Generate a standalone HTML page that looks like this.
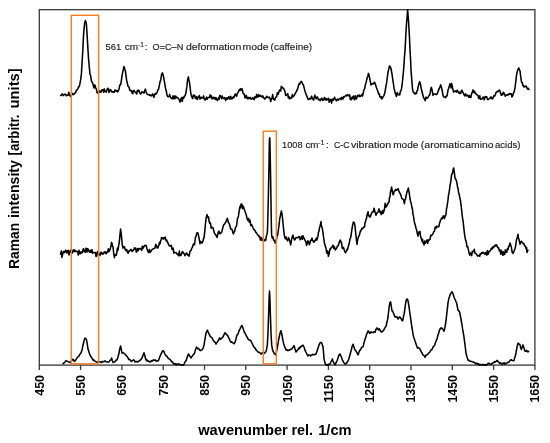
<!DOCTYPE html>
<html><head><meta charset="utf-8"><title>Raman spectra</title>
<style>
html,body{margin:0;padding:0;background:#fff;}
body{width:550px;height:443px;overflow:hidden;font-family:"Liberation Sans",sans-serif;}
svg{display:block;}
.ax text{font-family:"Liberation Sans",sans-serif;font-weight:bold;font-size:12.3px;fill:#000;}
.ttl text{font-family:"Liberation Sans",sans-serif;font-weight:bold;font-size:15px;fill:#000;}
.ann{font-family:"Liberation Sans",sans-serif;font-size:9.5px;fill:#1c1c1c;stroke:#1c1c1c;stroke-width:0.15px;}
.sup{font-size:7.2px;}
</style></head>
<body>
<svg width="550" height="443" viewBox="0 0 550 443">
<rect x="0" y="0" width="550" height="443" fill="#fff"/>
<rect x="39.3" y="9.7" width="495.60" height="355.40" fill="none" stroke="#383838" stroke-width="1.3"/>
<g stroke="#383838" stroke-width="1.3"><line x1="39.30" y1="365.1" x2="39.30" y2="369.9"/><line x1="80.60" y1="365.1" x2="80.60" y2="369.9"/><line x1="121.90" y1="365.1" x2="121.90" y2="369.9"/><line x1="163.20" y1="365.1" x2="163.20" y2="369.9"/><line x1="204.50" y1="365.1" x2="204.50" y2="369.9"/><line x1="245.80" y1="365.1" x2="245.80" y2="369.9"/><line x1="287.10" y1="365.1" x2="287.10" y2="369.9"/><line x1="328.40" y1="365.1" x2="328.40" y2="369.9"/><line x1="369.70" y1="365.1" x2="369.70" y2="369.9"/><line x1="411.00" y1="365.1" x2="411.00" y2="369.9"/><line x1="452.30" y1="365.1" x2="452.30" y2="369.9"/><line x1="493.60" y1="365.1" x2="493.60" y2="369.9"/><line x1="534.90" y1="365.1" x2="534.90" y2="369.9"/></g>
<g fill="none" stroke="#000" stroke-width="1.55" stroke-linejoin="round" stroke-linecap="round">
<polyline points="60.6,95.5 61.3,95.4 62.0,93.9 62.7,94.6 63.4,95.6 64.2,94.6 65.0,94.0 65.7,94.6 66.3,95.8 67.0,95.1 67.6,95.4 68.2,95.0 68.8,92.3 69.4,94.7 70.2,96.0 71.0,96.6 71.7,93.8 72.3,93.3 73.0,94.7 73.7,93.8 74.3,94.0 75.0,93.0 75.7,92.6 76.3,90.3 77.0,90.1 77.8,88.9 78.6,86.8 79.3,86.7 80.0,83.1 80.7,79.4 81.4,73.9 82.0,63.7 82.6,54.0 83.1,44.0 83.6,34.1 84.1,28.6 84.6,22.9 85.4,20.6 85.9,22.0 86.4,24.2 86.9,31.7 87.4,40.0 88.0,50.2 88.6,59.8 89.3,67.0 90.0,74.3 90.7,75.9 91.4,80.9 92.2,82.4 93.0,83.8 93.5,86.4 94.0,88.0 94.5,85.1 95.0,85.3 95.7,87.7 96.4,89.3 97.0,92.3 97.6,93.1 98.3,92.1 99.0,90.5 99.7,92.2 100.3,91.2 101.0,92.2 101.7,90.1 102.3,89.7 103.0,89.8 103.7,92.2 104.3,88.9 105.0,91.4 105.7,91.5 106.3,92.1 107.0,89.8 107.7,88.3 108.3,88.6 109.0,92.5 109.7,90.7 110.3,89.5 111.0,90.4 111.7,92.0 112.3,91.5 113.0,92.1 113.7,91.7 114.3,92.3 115.0,89.9 115.7,90.7 116.3,91.2 117.0,90.4 117.7,91.9 118.3,90.8 119.0,89.2 119.8,85.0 120.6,84.8 121.3,81.1 122.0,75.6 122.7,72.4 123.4,69.3 123.9,66.6 124.4,67.6 124.9,69.5 125.4,71.0 126.0,75.7 126.6,80.1 127.3,83.1 128.0,86.3 128.7,86.6 129.3,88.2 130.0,90.4 130.7,90.8 131.3,90.6 132.0,92.8 132.7,93.8 133.3,90.9 134.0,90.4 134.7,91.5 135.3,92.2 136.0,92.9 136.7,94.0 137.3,90.4 138.0,91.5 138.7,90.1 139.3,91.4 140.0,93.3 140.7,94.0 141.3,93.2 142.0,91.7 142.7,92.2 143.3,92.7 144.0,93.2 144.7,90.8 145.4,89.1 146.0,91.5 146.6,93.0 147.3,94.3 147.9,94.4 148.6,94.8 149.3,95.1 149.9,94.8 150.6,95.8 151.3,95.3 151.9,95.8 152.6,93.9 153.3,95.0 153.9,97.4 154.6,94.6 155.3,93.4 155.9,94.2 156.6,93.1 157.3,91.9 157.9,89.9 158.6,89.2 159.3,85.7 160.0,81.9 160.8,79.9 161.6,74.1 162.4,72.8 162.9,74.4 163.4,75.9 163.9,79.0 164.4,81.4 164.9,84.6 165.5,88.2 166.2,90.5 167.0,95.0 167.7,96.6 168.3,96.8 169.0,96.6 169.7,94.6 170.3,96.9 171.0,97.9 171.7,98.5 172.3,98.8 173.0,95.9 173.7,98.8 174.3,96.1 175.0,98.7 175.7,96.0 176.3,97.7 177.0,97.5 177.7,97.5 178.3,98.6 179.0,99.3 179.5,100.6 180.0,102.0 180.5,101.3 181.0,98.4 181.7,97.5 182.3,101.5 183.0,97.2 183.7,98.2 184.3,96.2 185.0,96.0 185.7,93.6 186.4,90.0 187.0,85.4 187.6,79.7 188.4,76.9 188.9,80.2 189.4,81.8 190.0,86.4 190.6,91.7 191.3,95.7 192.0,97.3 192.7,98.6 193.3,95.1 194.0,96.0 194.7,95.3 195.3,98.3 196.0,98.6 196.7,96.5 197.3,99.4 198.0,97.4 198.7,97.3 199.3,95.6 200.0,99.2 200.6,98.2 201.2,97.2 201.8,98.2 202.4,97.9 203.0,97.6 203.6,95.9 204.2,99.0 204.8,99.8 205.4,100.0 206.0,98.3 206.6,97.1 207.2,99.2 207.8,97.7 208.4,97.4 209.0,97.6 209.6,97.0 210.2,94.7 210.8,97.5 211.4,95.9 212.0,98.9 212.6,98.8 213.2,97.3 213.8,97.9 214.4,98.7 215.0,97.4 215.6,99.4 216.2,97.9 216.8,99.6 217.4,100.5 218.0,99.5 218.6,97.6 219.2,99.2 219.8,95.3 220.4,96.0 221.0,96.2 221.6,98.7 222.2,96.0 222.8,97.9 223.4,98.0 224.0,98.6 224.6,97.6 225.2,98.5 225.8,100.4 226.4,97.9 227.0,97.8 227.6,99.2 228.2,97.8 228.8,96.7 229.4,97.8 230.0,99.2 230.6,96.3 231.2,97.3 231.8,99.0 232.4,98.4 233.0,97.0 233.6,97.9 234.2,96.8 234.8,94.8 235.4,94.1 236.0,95.8 236.7,96.1 237.3,93.4 238.0,92.7 238.7,91.2 239.3,89.5 240.0,90.4 240.7,88.6 241.4,90.1 242.2,88.9 243.0,93.1 243.7,93.9 244.3,94.0 245.0,97.9 245.7,97.6 246.3,95.4 247.0,98.2 247.6,98.7 248.2,97.4 248.8,98.7 249.4,98.3 250.0,97.3 250.6,97.7 251.2,99.3 251.8,98.7 252.4,98.7 253.0,97.5 253.6,99.3 254.2,99.6 254.8,97.2 255.4,96.7 256.0,97.8 256.7,94.4 257.3,96.9 258.0,96.9 258.7,94.5 259.3,96.2 260.0,95.8 260.7,95.4 261.3,96.8 262.0,96.9 262.7,95.9 263.3,97.4 264.0,98.1 264.7,99.2 265.3,98.0 266.0,97.9 266.7,96.3 267.3,96.9 268.0,97.4 268.7,97.7 269.3,97.0 270.0,98.3 270.7,101.6 271.3,99.3 272.0,97.7 272.7,94.6 273.3,99.1 274.0,99.0 274.7,100.3 275.3,98.1 276.0,97.0 276.7,96.6 277.3,92.8 278.0,94.3 278.7,92.9 279.3,90.3 280.0,90.0 280.7,91.0 281.3,86.4 282.0,87.1 282.7,88.1 283.4,88.1 284.2,89.6 285.0,91.7 285.7,95.4 286.3,95.2 287.0,94.6 287.7,93.6 288.3,97.9 289.0,96.4 289.7,98.9 290.3,98.3 291.0,97.6 291.7,98.0 292.3,94.5 293.0,96.7 293.7,95.9 294.3,95.6 295.0,93.8 295.7,92.5 296.3,91.8 297.0,90.1 297.7,88.6 298.3,86.2 299.0,83.9 299.7,84.1 300.4,82.4 301.2,81.4 302.0,82.4 302.7,83.8 303.4,85.0 304.2,88.1 305.0,91.0 305.7,93.2 306.3,94.9 307.0,96.6 307.7,98.2 308.3,99.6 309.0,99.2 309.7,98.4 310.3,98.9 311.0,97.6 311.7,96.1 312.3,99.0 313.0,99.0 313.6,100.1 314.2,97.4 314.8,95.1 315.4,96.9 316.0,98.7 316.6,97.8 317.2,96.8 317.8,97.8 318.4,99.8 319.0,99.6 319.6,99.4 320.2,100.8 320.8,99.5 321.4,98.3 322.0,98.2 322.6,100.4 323.2,99.7 323.8,100.0 324.4,97.4 325.0,98.9 325.6,99.9 326.2,98.4 326.8,100.1 327.4,99.3 328.0,98.8 328.6,98.4 329.2,102.3 329.8,101.0 330.4,99.4 331.0,100.0 331.6,103.1 332.2,99.0 332.8,100.3 333.4,100.2 334.0,98.6 334.6,97.2 335.2,99.2 335.8,99.6 336.4,100.8 337.0,99.7 337.6,99.2 338.2,100.1 338.8,99.5 339.4,98.9 340.0,98.4 340.6,98.2 341.2,99.6 341.8,97.3 342.4,98.0 343.0,99.0 343.7,96.6 344.3,97.1 345.0,96.3 345.8,95.3 346.6,96.0 347.4,94.6 348.2,95.1 349.0,95.9 349.7,94.9 350.3,99.6 351.0,98.2 351.6,99.6 352.2,97.0 352.8,98.1 353.4,96.0 354.0,98.9 354.6,99.8 355.2,95.8 355.8,98.2 356.4,99.0 357.0,97.3 357.6,95.3 358.2,96.0 358.8,96.3 359.4,95.0 360.0,96.6 360.7,96.0 361.3,95.6 362.0,94.3 362.5,96.1 363.0,94.4 363.8,90.2 364.6,88.9 365.3,85.1 366.0,82.7 366.7,79.9 367.4,77.0 367.9,76.0 368.4,73.4 369.0,74.8 369.6,78.0 370.3,81.3 371.0,84.9 371.8,84.4 372.6,83.7 373.5,83.8 374.4,82.1 375.0,83.4 375.6,84.8 376.3,87.3 377.0,89.2 377.8,91.0 378.6,94.0 379.3,93.9 380.0,97.1 380.7,97.8 381.3,96.7 382.0,98.9 382.8,97.2 383.6,96.1 384.3,94.6 385.0,92.0 385.8,86.9 386.6,83.0 387.3,77.5 388.0,72.2 388.5,70.3 389.0,67.8 389.5,65.9 390.0,66.9 390.5,67.2 391.0,68.7 391.5,71.4 392.0,73.9 392.5,77.6 393.0,81.1 393.5,84.2 394.0,88.5 394.6,90.2 395.2,93.3 395.8,94.6 396.4,96.4 397.2,92.5 398.0,94.7 398.5,94.8 399.0,94.2 399.7,95.0 400.4,91.1 401.0,90.8 401.6,88.2 402.1,84.6 402.6,80.1 403.1,74.9 403.6,70.1 404.4,57.9 405.0,50.1 405.8,35.9 406.6,22.0 407.1,17.1 407.6,9.9 408.1,16.0 408.6,22.2 409.4,36.0 410.0,49.9 410.6,60.0 411.0,70.1 411.8,80.1 412.4,87.8 413.0,91.6 413.6,92.5 414.3,93.0 415.0,94.1 415.7,93.0 416.4,93.5 417.0,90.8 417.6,90.2 418.1,87.1 418.6,84.8 419.1,83.6 419.6,81.6 420.1,83.0 420.6,84.8 421.1,88.1 421.6,90.0 422.3,92.8 423.0,95.4 423.7,98.1 424.4,98.8 425.2,100.7 426.0,97.0 426.8,98.5 427.6,97.7 428.3,96.9 429.0,95.5 429.7,95.1 430.4,91.4 430.9,88.3 431.4,87.4 432.2,90.6 433.0,95.4 433.7,94.1 434.3,94.3 435.0,93.9 435.8,94.3 436.6,94.6 437.3,93.5 438.0,91.6 438.7,89.9 439.4,88.1 440.0,87.0 440.6,84.9 441.2,86.2 441.8,89.0 442.4,91.6 443.0,95.4 443.7,96.9 444.4,97.0 445.0,96.9 445.6,97.7 446.3,95.9 447.0,95.9 447.5,93.2 448.0,90.1 448.7,88.2 449.4,86.1 450.0,83.9 450.6,84.0 451.1,87.9 451.6,83.4 452.1,85.5 452.6,88.0 453.1,90.1 453.6,92.1 454.3,91.2 455.0,91.1 455.7,91.1 456.3,92.1 457.0,90.3 457.8,91.0 458.6,93.0 459.3,92.2 460.0,93.6 460.7,93.3 461.3,90.6 462.0,90.3 462.7,92.3 463.4,93.1 464.2,95.1 465.0,96.0 465.7,93.9 466.3,95.6 467.0,95.6 467.6,95.0 468.2,95.9 468.8,97.3 469.4,95.5 470.0,97.3 470.8,97.5 471.6,93.8 472.3,92.1 473.0,89.9 473.8,92.5 474.6,91.1 475.3,93.5 476.0,93.8 476.7,94.6 477.3,95.3 478.0,95.4 478.6,98.4 479.2,98.3 479.8,95.7 480.4,99.3 481.0,98.9 481.7,99.1 482.3,98.5 483.0,97.0 483.6,97.4 484.2,99.8 484.8,97.1 485.4,96.5 486.0,97.5 486.7,96.7 487.3,99.1 488.0,99.7 488.7,99.1 489.3,98.4 490.0,98.5 490.6,97.1 491.2,97.0 491.8,98.8 492.4,99.0 493.0,98.0 493.8,95.9 494.6,96.1 495.3,94.8 496.0,92.5 496.7,92.2 497.3,91.3 498.0,91.6 498.7,90.6 499.4,90.0 500.0,91.1 500.6,93.4 501.3,95.3 502.0,93.8 502.7,94.8 503.3,92.3 504.0,93.0 504.7,94.6 505.3,96.2 506.0,94.9 506.7,94.9 507.3,95.3 508.0,94.4 508.7,94.7 509.3,93.5 510.0,94.1 510.7,93.7 511.3,93.7 512.0,97.0 512.8,95.3 513.6,92.8 514.3,91.3 515.0,87.9 515.5,83.6 516.0,80.1 516.5,75.4 517.0,72.8 517.5,71.0 518.0,69.3 518.8,67.9 519.4,69.8 520.0,70.8 520.8,77.1 521.6,82.5 522.3,82.8 523.0,85.8 523.5,85.3 524.0,87.0 524.7,86.7 525.4,86.4 526.2,86.1 527.0,88.2 527.5,89.2 528.0,88.3 528.5,89.0 529.0,89.4"/>
<polyline points="60.6,254.2 61.4,250.9 61.9,257.4 62.4,255.3 62.9,253.6 63.4,251.8 63.9,251.5 64.4,252.6 65.0,252.2 65.5,250.3 66.0,250.4 66.5,251.7 67.0,253.1 67.5,250.7 68.0,250.6 68.5,250.5 69.0,255.0 69.5,253.1 70.0,252.4 70.5,250.1 71.0,250.9 71.7,252.7 72.4,253.0 73.2,250.0 74.0,251.4 74.5,249.7 75.0,251.6 75.7,251.0 76.3,251.2 77.0,251.7 77.7,251.6 78.3,255.1 79.0,250.3 79.7,253.6 80.3,253.7 81.0,251.8 81.7,253.0 82.3,252.6 83.0,249.4 83.7,248.8 84.3,251.8 85.0,250.2 85.5,252.2 86.0,248.2 86.5,248.5 87.0,252.0 87.7,248.8 88.4,249.4 89.2,251.8 90.0,252.4 90.7,250.3 91.3,252.3 92.0,249.8 92.7,253.3 93.4,252.5 94.2,252.5 95.0,252.7 95.5,252.5 96.0,256.4 96.7,256.0 97.4,251.7 98.2,254.3 99.0,253.0 99.7,255.5 100.3,254.7 101.0,252.2 101.7,252.4 102.3,253.9 103.0,254.2 103.7,253.1 104.3,251.9 105.0,252.9 105.7,251.9 106.3,253.7 107.0,252.0 107.7,252.3 108.3,248.8 109.0,251.4 109.5,250.2 110.0,249.8 110.5,247.9 111.0,245.9 111.5,242.4 112.0,243.5 112.5,246.2 113.0,246.8 113.7,253.1 114.4,257.6 115.0,254.7 115.6,254.9 116.3,255.2 117.0,251.0 117.5,248.0 118.0,250.1 118.5,246.4 119.0,243.8 119.5,239.9 120.0,234.5 120.6,229.1 121.4,235.6 122.2,244.3 123.0,248.1 123.7,246.5 124.4,246.7 125.2,249.5 126.0,250.6 126.7,249.5 127.3,251.8 128.0,253.2 128.5,252.6 129.0,250.9 129.7,251.0 130.3,249.9 131.0,249.4 131.7,250.9 132.4,251.4 133.2,250.2 134.0,249.2 134.5,247.9 135.0,249.1 135.7,248.1 136.3,252.2 137.0,251.4 137.7,248.5 138.3,250.6 139.0,248.5 139.7,248.8 140.3,248.5 141.0,249.2 141.7,250.5 142.3,246.3 143.0,248.5 143.8,246.7 144.6,245.5 145.3,245.5 146.0,245.3 146.5,247.0 147.0,249.1 147.5,250.1 148.0,251.8 148.7,252.6 149.4,249.5 150.2,252.3 151.0,251.2 151.7,250.0 152.3,249.4 153.0,248.9 153.7,248.7 154.3,248.3 155.0,248.0 155.7,244.3 156.4,245.5 157.2,247.9 158.0,247.7 158.5,245.8 159.0,245.0 159.5,242.4 160.0,243.7 160.5,241.6 161.0,239.9 161.5,237.5 162.0,238.4 162.5,238.8 163.0,237.8 163.7,239.1 164.4,237.6 165.2,237.1 166.0,240.7 166.7,240.0 167.3,241.9 168.0,243.0 168.7,244.9 169.3,245.9 170.0,245.6 170.7,246.1 171.3,245.4 172.0,249.3 172.6,249.6 173.2,248.1 173.8,253.1 174.4,252.3 175.0,252.5 175.7,252.7 176.3,252.8 177.0,254.1 177.6,254.8 178.2,253.8 178.8,255.8 179.4,251.0 180.0,255.5 180.7,255.5 181.3,254.7 182.0,252.4 182.7,251.5 183.4,253.2 184.2,253.7 185.0,255.6 185.7,254.8 186.3,253.0 187.0,253.2 187.7,255.0 188.3,254.7 189.0,256.3 189.5,254.3 190.0,251.1 190.5,250.9 191.0,250.4 191.7,248.2 192.4,247.5 193.2,244.4 194.0,243.5 194.5,244.8 195.0,240.5 195.5,237.3 196.0,236.6 196.8,233.0 197.6,232.7 198.1,233.6 198.6,235.9 199.4,240.3 200.0,243.8 200.6,241.4 201.3,241.9 202.0,243.1 202.5,241.7 203.0,241.2 203.5,238.4 204.0,238.1 204.8,231.1 205.4,224.3 206.2,217.7 207.0,214.6 207.5,216.6 208.0,217.7 208.5,216.9 209.0,220.8 209.7,223.4 210.4,222.9 211.2,228.2 212.0,227.3 212.8,227.5 213.6,230.0 214.3,232.7 215.0,234.2 215.7,234.4 216.3,236.1 217.0,237.5 217.5,235.8 218.0,233.1 218.5,231.8 219.0,231.1 219.5,233.3 220.0,233.8 220.5,233.5 221.0,232.8 221.7,232.1 222.4,229.5 223.2,226.1 224.0,224.4 224.7,224.0 225.4,222.6 226.0,221.7 226.6,220.3 227.3,218.3 228.0,220.8 228.5,222.9 229.0,223.2 229.5,224.5 230.0,226.2 230.5,228.7 231.0,229.1 231.7,229.0 232.4,230.4 232.9,232.8 233.4,233.9 234.0,232.3 234.6,231.5 235.3,228.2 236.0,226.9 236.5,225.8 237.0,222.7 237.5,218.1 238.0,217.8 238.5,215.9 239.0,211.8 239.5,209.3 240.0,206.3 240.5,207.8 241.0,204.2 241.5,203.9 242.0,204.9 242.5,208.6 243.0,206.1 243.5,206.6 244.0,208.4 244.7,210.6 245.4,212.5 246.2,214.7 247.0,218.0 247.8,220.5 248.6,218.5 249.3,222.1 250.0,220.2 250.8,225.7 251.6,224.7 252.3,226.0 253.0,227.8 253.8,229.4 254.6,230.0 255.3,231.1 256.0,232.7 256.8,233.2 257.6,235.0 258.3,235.2 259.0,236.7 259.7,236.5 260.4,240.0 261.0,239.8 261.6,237.5 262.3,240.5 263.0,240.0 263.5,240.7 264.0,240.2 264.5,240.9 265.0,239.6 265.8,240.3 266.4,235.8 267.0,234.5 267.5,230.1 267.9,215.1 268.4,194.9 269.0,165.0 269.4,140.1 269.7,137.7 269.9,140.0 270.4,165.1 270.9,194.9 271.3,222.0 271.6,234.9 272.4,238.3 273.0,236.9 273.6,240.2 274.4,240.2 275.2,243.1 276.0,240.1 276.5,239.3 277.0,236.1 277.7,234.8 278.4,229.8 279.3,222.8 279.8,218.0 280.3,216.2 280.9,213.2 281.4,210.9 282.3,215.9 283.0,223.0 283.7,229.8 284.3,235.4 285.2,238.6 286.0,236.8 286.5,239.3 287.0,239.7 287.7,240.9 288.4,237.6 289.2,239.2 290.0,241.9 290.7,244.9 291.4,240.7 292.2,236.8 293.0,235.1 293.5,238.1 294.0,238.3 294.5,239.9 295.0,239.6 295.7,238.0 296.4,237.6 297.2,237.8 298.0,237.7 298.7,236.6 299.4,236.7 300.2,239.7 301.0,238.2 301.7,236.2 302.3,239.3 303.0,235.7 303.7,237.7 304.4,239.2 305.2,240.6 306.0,242.0 306.5,245.4 307.0,244.2 307.8,240.9 308.6,241.7 309.3,244.7 310.0,243.0 310.5,240.3 311.0,240.4 311.5,239.8 312.0,238.1 312.5,240.3 313.0,240.9 313.5,241.9 314.0,242.3 314.8,240.3 315.6,240.6 316.3,238.0 317.0,239.9 317.5,237.7 318.0,236.2 318.5,232.2 319.0,231.3 319.5,227.6 320.0,226.2 320.5,224.1 321.0,221.6 321.5,226.6 322.0,227.1 322.5,229.5 323.0,232.9 323.5,236.9 324.0,240.0 324.5,243.5 325.0,244.8 325.5,246.9 326.0,247.9 326.6,252.7 327.1,253.3 327.6,250.7 328.4,256.3 329.2,253.2 330.0,248.8 330.7,248.9 331.4,247.3 332.2,246.9 333.0,245.1 333.7,248.4 334.4,246.6 335.2,249.9 336.0,249.0 336.7,248.0 337.4,245.9 338.2,245.8 339.0,243.2 339.7,241.0 340.4,240.1 341.0,242.3 341.6,243.0 342.3,248.4 343.0,247.3 343.7,248.1 344.4,250.5 345.0,252.0 345.6,252.8 346.3,251.2 347.0,249.4 347.5,249.6 348.0,247.6 348.7,245.0 349.4,242.7 349.9,239.0 350.4,238.6 351.0,236.0 351.5,232.0 352.0,229.0 352.7,224.7 353.4,222.0 353.9,222.3 354.4,223.1 355.0,226.1 355.5,231.2 356.0,235.8 356.5,240.3 357.0,244.5 357.6,239.9 358.4,237.0 359.2,235.7 360.0,232.5 360.5,230.8 361.0,230.8 361.7,228.4 362.4,228.9 363.2,227.8 364.0,226.7 364.5,227.0 365.0,222.9 365.5,221.9 366.0,219.4 366.5,218.5 367.0,215.1 367.6,213.1 368.1,211.8 368.6,216.0 369.3,215.6 370.0,217.2 370.7,215.6 371.4,213.8 372.2,212.0 373.0,211.6 373.5,211.6 374.0,208.2 374.5,210.0 375.0,212.3 375.5,213.1 376.0,215.2 376.7,213.2 377.4,212.7 378.2,211.6 379.0,208.9 379.7,212.2 380.4,211.3 381.2,214.6 382.0,212.8 382.5,210.6 383.0,213.4 383.7,211.7 384.4,209.3 385.2,203.2 386.0,207.1 386.7,206.2 387.4,204.7 388.2,202.9 389.0,202.1 389.5,197.6 390.0,196.4 390.5,191.7 391.0,190.0 391.6,187.0 392.4,191.9 393.0,194.6 393.5,194.7 394.0,191.4 394.5,191.1 395.0,190.8 395.7,189.4 396.4,190.3 397.2,189.8 398.0,188.6 398.7,190.5 399.4,192.5 400.2,193.4 401.0,195.6 401.8,198.4 402.6,199.0 403.5,199.7 404.4,203.7 404.9,199.9 405.4,199.5 406.0,196.0 406.6,193.7 407.1,191.5 407.6,190.6 408.4,188.1 409.2,193.0 410.0,198.5 410.5,201.0 411.0,202.9 411.5,205.1 412.0,207.8 412.5,209.4 413.0,214.4 413.5,216.0 414.0,220.2 414.5,222.7 415.0,224.1 415.5,226.2 416.0,228.2 416.5,229.6 417.0,232.0 417.5,234.4 418.0,236.1 418.5,234.1 419.0,231.9 419.5,232.5 420.0,231.5 420.5,235.9 421.0,237.5 421.5,239.3 422.0,241.1 422.5,239.2 423.0,242.9 423.5,242.4 424.0,244.9 424.7,241.1 425.4,243.1 426.2,241.3 427.0,240.0 427.7,243.4 428.4,239.9 429.2,240.1 430.0,239.5 430.7,235.3 431.4,235.8 432.2,234.7 433.0,233.6 433.7,231.8 434.4,231.3 435.2,227.0 436.0,228.3 436.7,226.1 437.4,226.9 438.2,226.7 439.0,226.4 439.5,223.2 440.0,222.2 440.5,220.1 441.0,219.3 441.7,217.9 442.4,218.7 443.2,215.9 444.0,216.5 444.5,218.5 445.0,215.7 445.5,216.0 446.0,214.3 446.5,208.9 447.0,206.9 447.5,203.1 448.0,200.0 448.5,195.1 449.0,193.1 449.5,189.7 450.0,185.7 450.5,183.1 451.0,180.1 451.5,175.2 452.0,174.0 452.5,173.1 453.0,170.3 453.6,168.0 454.4,172.8 455.0,178.0 455.8,179.2 456.6,181.3 457.1,184.1 457.6,187.3 458.1,188.8 458.6,192.6 459.1,194.3 459.6,196.7 460.1,198.9 460.6,201.5 461.1,205.3 461.6,209.9 462.1,214.5 462.6,218.3 463.1,221.2 463.6,225.8 464.1,230.7 464.6,234.3 465.1,237.8 465.6,240.1 466.3,242.2 467.0,246.8 467.7,246.6 468.3,249.4 469.0,252.5 469.7,255.1 470.3,252.9 471.0,254.3 471.7,255.6 472.3,251.3 473.0,251.7 473.7,251.5 474.3,249.3 475.0,253.3 475.7,253.5 476.3,253.9 477.0,255.0 477.7,256.1 478.3,255.6 479.0,255.4 479.7,256.3 480.3,253.8 481.0,254.1 481.7,252.5 482.3,253.3 483.0,252.2 483.7,253.5 484.3,253.1 485.0,254.5 485.6,252.6 486.2,252.5 486.8,255.1 487.4,250.6 488.0,254.3 488.7,252.8 489.3,251.3 490.0,251.0 490.7,249.8 491.3,248.2 492.0,249.3 492.7,246.9 493.3,247.8 494.0,246.9 494.6,245.4 495.2,245.1 495.8,246.2 496.4,244.8 497.0,245.6 497.8,247.7 498.6,247.8 499.3,250.8 500.0,249.9 500.7,254.2 501.3,250.3 502.0,252.4 502.7,255.3 503.3,251.7 504.0,254.6 504.7,254.4 505.3,249.9 506.0,251.9 506.7,252.3 507.3,248.9 508.0,249.6 508.5,246.3 509.0,246.5 509.5,245.0 510.0,243.0 510.7,245.1 511.4,247.6 512.2,252.2 513.0,253.4 513.7,251.9 514.4,250.3 515.0,248.5 515.6,246.2 516.1,242.3 516.6,239.5 517.3,237.4 518.0,234.3 518.5,238.3 519.0,239.3 519.5,241.9 520.0,244.2 520.7,242.2 521.4,241.2 522.2,242.4 523.0,243.4 523.7,243.5 524.4,245.6 525.2,246.0 526.0,248.6 526.5,247.4 527.0,252.5 527.5,250.1 528.0,250.5"/>
<polyline points="63.0,363.8 63.7,363.1 64.3,362.8 65.0,361.9 65.7,361.1 66.3,360.6 67.0,361.1 67.7,361.4 68.4,361.9 69.2,362.0 70.0,362.6 70.7,362.0 71.4,360.9 72.2,359.9 73.0,359.2 73.5,359.8 74.0,361.0 74.5,361.4 75.0,361.0 75.7,360.0 76.4,358.9 77.2,357.6 78.0,356.8 78.7,356.3 79.4,355.1 80.2,353.8 81.0,353.0 81.5,351.4 82.0,350.2 82.5,347.7 83.0,345.0 83.5,343.2 84.0,341.1 84.5,339.2 85.0,338.1 85.8,338.5 86.6,340.0 87.4,345.0 88.0,349.1 88.5,350.5 89.0,352.0 89.5,353.8 90.0,355.0 90.7,356.2 91.4,357.2 92.2,358.6 93.0,360.0 93.7,359.8 94.3,360.8 95.0,361.1 95.7,361.6 96.3,361.9 97.0,362.1 97.7,362.0 98.3,361.8 99.0,361.7 99.7,361.7 100.3,361.9 101.0,362.5 101.7,362.5 102.3,361.4 103.0,361.9 103.7,361.6 104.3,361.5 105.0,360.9 105.7,361.4 106.3,361.7 107.0,361.9 107.7,362.1 108.3,361.9 109.0,361.9 109.7,360.9 110.4,359.9 111.0,359.7 111.6,358.0 112.4,361.0 113.0,362.4 113.7,362.3 114.3,362.1 115.0,361.6 115.7,360.5 116.3,360.1 117.0,359.9 117.5,358.6 118.0,356.9 118.5,355.0 119.0,353.1 119.5,350.1 120.0,348.0 120.6,346.0 121.4,349.9 122.0,353.1 122.7,352.7 123.4,352.7 124.2,353.6 125.0,354.2 125.7,354.8 126.4,355.9 127.2,356.5 128.0,357.9 128.7,359.4 129.3,359.2 130.0,359.8 130.7,360.7 131.3,361.5 132.0,360.9 132.8,360.5 133.6,359.8 134.3,360.3 135.0,362.0 135.7,361.4 136.3,361.4 137.0,362.0 137.7,361.9 138.3,361.3 139.0,361.2 139.8,360.2 140.6,360.0 141.3,359.1 142.0,357.8 142.5,356.9 143.0,355.1 143.5,354.1 144.0,352.8 144.5,354.9 145.0,356.0 145.5,358.6 146.0,360.0 146.7,359.5 147.3,361.2 148.0,361.0 148.7,361.1 149.3,361.8 150.0,362.0 150.7,361.8 151.3,360.6 152.0,361.0 152.7,360.9 153.3,359.8 154.0,360.2 154.7,360.3 155.3,359.8 156.0,361.2 156.7,360.8 157.3,361.0 158.0,361.0 158.7,360.1 159.4,358.0 160.2,355.8 161.0,353.9 161.5,353.2 162.0,352.1 162.5,351.1 163.0,350.7 163.6,351.1 164.2,352.0 164.8,353.7 165.4,355.0 166.0,355.6 166.6,356.0 167.3,356.8 168.0,358.0 168.7,358.7 169.4,358.9 170.2,359.5 171.0,361.0 171.7,361.5 172.4,362.0 173.2,363.3 174.0,364.1 174.6,363.8 175.2,364.3 175.8,363.7 176.4,364.9 177.0,364.2 177.6,364.1 178.2,363.9 178.8,364.5 179.4,364.3 180.0,364.3 180.6,364.8 181.2,364.7 181.8,365.2 182.4,364.8 183.0,365.3 183.8,364.7 184.6,362.8 185.3,361.3 186.0,360.9 186.6,359.4 187.2,357.1 187.8,355.6 188.4,354.0 189.0,354.6 189.6,356.0 190.3,356.6 191.0,358.0 191.7,356.9 192.4,355.9 193.2,354.8 194.0,354.1 194.7,352.6 195.4,349.9 196.0,348.7 196.6,347.0 197.2,348.4 197.8,348.7 198.4,348.4 199.0,349.0 199.8,350.3 200.6,350.6 201.3,349.9 202.0,349.9 202.5,349.1 203.0,348.1 203.5,346.8 204.0,345.0 204.5,342.1 205.0,339.0 205.5,336.0 206.0,332.9 206.7,331.7 207.4,330.1 208.0,331.8 208.6,333.0 209.3,334.4 210.0,336.1 210.7,336.9 211.4,337.2 212.2,338.1 213.0,340.0 213.8,340.9 214.6,342.2 215.3,342.2 216.0,344.1 216.7,342.7 217.4,341.9 218.2,340.8 219.0,339.1 219.7,337.9 220.4,339.4 221.2,338.8 222.0,337.9 222.7,337.4 223.4,335.9 224.2,334.4 225.0,332.7 225.7,333.7 226.4,334.0 227.2,335.3 228.0,335.9 228.7,338.1 229.4,338.9 230.2,341.1 231.0,342.2 231.7,341.9 232.4,342.6 233.2,343.0 234.0,343.7 234.5,343.2 235.0,342.0 235.5,340.9 236.0,339.1 236.5,336.6 237.0,335.0 237.5,334.7 238.0,334.1 238.5,332.5 239.0,330.9 239.5,329.9 240.0,329.1 240.5,327.6 241.0,326.9 241.5,325.8 242.0,325.5 242.5,327.2 243.0,328.0 243.5,329.7 244.0,331.1 244.5,332.4 245.0,333.0 245.7,334.5 246.4,336.0 247.2,337.4 248.0,338.9 248.7,339.7 249.4,340.1 250.2,340.2 251.0,340.9 251.7,342.5 252.4,344.0 253.2,345.8 254.0,347.0 254.7,348.0 255.3,348.4 256.0,349.9 256.7,350.5 257.3,351.1 258.0,352.1 258.7,352.3 259.3,352.3 260.0,353.1 260.7,353.5 261.3,354.2 262.0,353.0 262.8,352.6 263.6,352.7 264.5,353.3 265.4,352.3 265.9,351.4 266.5,350.0 267.3,345.0 267.9,335.0 268.6,315.0 269.1,298.0 269.5,291.0 269.9,298.0 270.4,315.0 271.1,335.0 271.7,345.1 272.6,350.1 273.2,351.3 273.8,352.9 274.4,353.8 275.0,354.1 275.6,354.9 276.4,352.0 276.9,349.7 277.4,347.0 277.9,344.3 278.4,341.0 278.9,338.5 279.4,336.0 279.9,333.9 280.4,331.9 281.0,330.7 281.5,333.0 282.0,335.0 282.5,338.0 283.0,340.9 283.7,343.7 284.4,346.0 285.2,347.9 286.0,350.0 286.7,349.5 287.3,350.1 288.0,350.8 288.7,350.0 289.3,349.8 290.0,350.0 290.7,349.2 291.3,348.9 292.0,348.9 292.7,347.6 293.3,347.0 294.0,345.6 294.5,347.1 295.0,348.9 295.5,350.5 296.0,351.9 296.8,351.1 297.6,349.9 298.3,349.4 299.0,347.8 299.7,348.4 300.3,346.7 301.0,346.9 301.7,345.9 302.3,345.5 303.0,345.2 303.5,346.2 304.0,346.9 304.5,348.6 305.0,350.2 305.7,351.7 306.4,353.0 307.2,354.6 308.0,356.0 308.7,354.9 309.3,355.1 310.0,355.0 310.7,355.9 311.3,355.3 312.0,355.0 312.7,354.2 313.3,354.8 314.0,354.8 314.7,354.7 315.3,354.1 316.0,354.1 316.7,352.0 317.4,350.0 318.2,347.6 319.0,345.1 319.5,343.9 320.0,342.9 320.5,342.5 321.0,342.4 321.5,342.8 322.0,343.9 322.5,345.6 323.0,346.9 323.6,353.0 324.0,358.9 324.5,360.9 325.0,363.0 325.5,363.7 326.0,365.1 326.7,364.8 327.3,365.2 328.0,364.7 328.7,364.2 329.3,364.5 330.0,364.1 330.7,362.5 331.4,361.0 331.9,360.4 332.4,358.9 332.9,360.8 333.4,362.0 333.9,363.2 334.4,364.1 335.2,364.6 336.0,362.9 336.5,361.5 337.0,361.1 337.5,359.4 338.0,358.0 338.5,356.1 339.0,355.1 339.5,354.6 340.0,353.8 340.5,355.3 341.0,356.0 341.5,357.3 342.0,358.8 342.5,360.6 343.0,360.9 343.5,362.2 344.0,362.9 344.5,363.1 345.0,364.1 345.8,363.8 346.6,363.1 347.3,361.8 348.0,361.0 348.7,359.2 349.4,357.1 350.2,354.0 351.0,351.0 351.5,349.2 352.0,346.8 352.5,345.6 353.0,344.2 353.5,345.7 354.0,347.0 354.5,348.7 355.0,350.1 355.7,350.4 356.4,351.9 357.2,353.2 358.0,354.8 358.5,353.8 359.0,351.9 359.5,351.0 360.0,350.1 360.7,349.4 361.4,347.8 362.2,346.9 363.0,346.8 363.5,345.1 364.0,342.9 364.5,341.1 365.0,339.1 365.7,337.5 366.4,334.9 367.2,333.0 368.0,331.0 368.7,331.2 369.4,333.1 370.2,333.1 371.0,331.8 371.7,332.5 372.3,332.5 373.0,332.6 373.7,331.9 374.3,331.7 375.0,332.3 375.5,330.8 376.0,329.0 376.5,329.0 377.0,327.9 377.7,329.2 378.4,329.9 379.2,328.7 380.0,329.9 380.7,331.3 381.4,332.1 382.2,331.8 383.0,331.0 383.7,330.1 384.4,328.8 385.2,327.4 386.0,326.3 386.5,324.0 387.0,322.0 387.5,320.0 388.0,317.0 388.8,310.0 389.4,305.0 390.0,302.6 390.6,301.9 391.4,307.0 392.0,311.0 392.7,311.3 393.4,313.0 394.2,315.0 395.0,316.9 395.7,316.7 396.4,317.1 397.2,316.9 398.0,319.1 398.5,318.3 399.0,317.6 399.5,317.1 400.0,317.0 400.7,318.3 401.4,318.9 402.0,320.6 402.6,320.9 403.1,318.6 403.6,316.0 404.1,313.9 404.6,311.0 405.4,304.9 406.0,301.0 406.5,299.7 407.0,299.0 407.6,299.4 408.4,302.9 409.0,306.9 409.5,310.5 410.0,314.0 410.5,317.4 411.0,320.9 411.5,324.6 412.0,328.0 412.5,330.6 413.0,333.9 413.5,336.5 414.0,338.0 414.5,339.2 415.0,340.9 415.7,342.9 416.4,345.0 416.9,346.4 417.4,348.1 418.0,347.5 418.6,347.7 419.3,348.3 420.0,349.0 420.7,350.7 421.4,352.1 422.2,353.2 423.0,355.1 423.7,355.3 424.4,355.8 424.9,357.2 425.4,356.8 426.0,355.1 426.6,355.0 427.3,354.6 428.0,354.0 428.7,353.0 429.4,352.6 430.2,351.4 431.0,350.0 431.7,349.8 432.4,348.8 433.2,346.6 434.0,346.1 434.7,345.0 435.4,342.8 436.2,340.7 437.0,339.2 437.5,337.0 438.0,335.1 438.5,333.8 439.0,332.0 439.5,330.2 440.0,329.2 440.5,328.6 441.0,327.8 441.7,328.0 442.4,329.0 443.2,329.4 444.0,331.3 444.5,329.2 445.0,327.1 445.5,323.9 446.0,321.0 446.5,316.1 447.0,312.0 447.5,307.6 448.0,302.9 448.5,300.3 449.0,297.9 449.5,296.7 450.0,295.1 450.5,293.9 451.0,293.1 451.5,292.4 452.0,291.8 452.5,292.7 453.0,293.9 453.5,295.6 454.0,297.0 454.7,298.8 455.4,299.9 456.0,301.7 456.6,303.0 457.4,307.1 458.0,310.0 458.5,310.8 459.0,310.8 459.6,312.0 460.2,315.0 460.8,318.0 461.4,321.5 462.0,324.9 462.5,328.4 463.0,331.1 463.5,334.1 464.0,337.1 464.5,341.0 465.0,345.1 465.5,348.8 466.0,353.1 466.5,355.1 467.0,356.9 467.5,358.4 468.0,360.1 468.7,360.1 469.4,360.9 470.2,361.2 471.0,361.3 471.7,361.6 472.3,361.8 473.0,362.0 473.7,362.1 474.3,362.7 475.0,362.8 475.6,363.8 476.2,363.2 476.8,363.7 477.4,363.6 478.0,364.1 478.6,363.8 479.2,365.1 479.8,364.6 480.4,364.6 481.0,364.8 481.6,365.2 482.2,364.8 482.8,364.3 483.4,365.0 484.0,365.1 484.6,364.6 485.2,365.1 485.8,364.6 486.4,365.1 487.0,364.6 487.6,364.0 488.2,363.4 488.8,363.8 489.4,363.3 490.0,364.3 490.6,364.4 491.2,364.3 491.8,363.6 492.4,363.6 493.0,362.8 493.7,362.6 494.3,361.7 495.0,362.1 495.7,361.5 496.4,361.2 496.9,360.4 497.4,360.7 498.0,361.7 498.6,361.9 499.3,362.8 500.0,363.6 500.7,362.9 501.3,363.8 502.0,364.0 502.6,363.9 503.2,362.9 503.8,363.8 504.4,362.9 505.0,364.2 505.7,363.5 506.3,363.3 507.0,362.9 507.7,362.7 508.3,362.0 509.0,362.0 509.5,361.5 510.0,360.4 510.5,360.0 511.0,359.5 511.7,360.3 512.4,360.6 513.2,360.7 514.0,360.6 514.5,358.3 515.0,356.9 515.5,355.3 516.0,353.0 516.5,350.0 517.0,346.9 517.5,344.9 518.0,343.1 518.5,344.3 519.0,344.1 519.5,344.0 520.0,344.8 520.8,348.0 521.4,349.6 522.2,347.1 523.0,344.9 523.5,346.5 524.0,348.0 524.5,349.9 525.0,351.2 525.8,351.3 526.6,350.3 527.3,351.4 527.9,351.9 528.6,351.3"/>
</g>
<g fill="none" stroke="#FF7D1E" stroke-width="1.4">
<rect x="71.3" y="15.3" width="27.3" height="348.5"/>
<rect x="263.3" y="131.2" width="13.0" height="232.6"/>
</g>
<g class="ax"><text transform="translate(43.70,395.8) rotate(-90)" textLength="20.8" lengthAdjust="spacingAndGlyphs">450</text><text transform="translate(85.00,395.8) rotate(-90)" textLength="20.8" lengthAdjust="spacingAndGlyphs">550</text><text transform="translate(126.30,395.8) rotate(-90)" textLength="20.8" lengthAdjust="spacingAndGlyphs">650</text><text transform="translate(167.60,395.8) rotate(-90)" textLength="20.8" lengthAdjust="spacingAndGlyphs">750</text><text transform="translate(208.90,395.8) rotate(-90)" textLength="20.8" lengthAdjust="spacingAndGlyphs">850</text><text transform="translate(250.20,395.8) rotate(-90)" textLength="20.8" lengthAdjust="spacingAndGlyphs">950</text><text transform="translate(291.50,402.6) rotate(-90)" textLength="27.6" lengthAdjust="spacingAndGlyphs">1050</text><text transform="translate(332.80,402.6) rotate(-90)" textLength="27.6" lengthAdjust="spacingAndGlyphs">1150</text><text transform="translate(374.10,402.6) rotate(-90)" textLength="27.6" lengthAdjust="spacingAndGlyphs">1250</text><text transform="translate(415.40,402.6) rotate(-90)" textLength="27.6" lengthAdjust="spacingAndGlyphs">1350</text><text transform="translate(456.70,402.6) rotate(-90)" textLength="27.6" lengthAdjust="spacingAndGlyphs">1450</text><text transform="translate(498.00,402.6) rotate(-90)" textLength="27.6" lengthAdjust="spacingAndGlyphs">1550</text><text transform="translate(539.30,402.6) rotate(-90)" textLength="27.6" lengthAdjust="spacingAndGlyphs">1650</text></g>
<g class="ttl"><text x="198.20" y="435.1" textLength="89.60" lengthAdjust="spacingAndGlyphs">wavenumber</text><text x="291.40" y="435.1" textLength="21.60" lengthAdjust="spacingAndGlyphs">rel.</text><text x="318.20" y="435.1" textLength="33.40" lengthAdjust="spacingAndGlyphs">1/cm</text></g>
<g class="ttl" transform="translate(19.3,268.1) rotate(-90)"><text x="-0.80" y="0" textLength="46.00" lengthAdjust="spacingAndGlyphs">Raman</text><text x="50.00" y="0" textLength="58.00" lengthAdjust="spacingAndGlyphs">intensity</text><text x="112.60" y="0" textLength="41.00" lengthAdjust="spacingAndGlyphs">[arbitr.</text><text x="159.60" y="0" textLength="40.20" lengthAdjust="spacingAndGlyphs">units]</text></g>
<text class="ann" x="105.5" y="49.7" textLength="15.7" lengthAdjust="spacingAndGlyphs">561</text><text class="ann" x="124.8" y="49.7" textLength="13.3" lengthAdjust="spacingAndGlyphs">cm</text><text class="ann sup" x="138.0" y="46.7" textLength="6.0" lengthAdjust="spacingAndGlyphs">-1</text><text class="ann" x="144.8" y="49.7">:</text><text class="ann" x="152.6" y="49.7" textLength="30.7" lengthAdjust="spacingAndGlyphs">O=C–N</text><text class="ann" x="185.9" y="49.7" textLength="55.4" lengthAdjust="spacingAndGlyphs">deformation</text><text class="ann" x="242.5" y="49.7" textLength="26.0" lengthAdjust="spacingAndGlyphs">mode</text><text class="ann" x="270.6" y="49.7" textLength="41.5" lengthAdjust="spacingAndGlyphs">(caffeine)</text>
<text class="ann" x="282.1" y="147.7" textLength="20.4" lengthAdjust="spacingAndGlyphs">1008</text><text class="ann" x="305.5" y="147.7" textLength="13.0" lengthAdjust="spacingAndGlyphs">cm</text><text class="ann sup" x="318.2" y="144.7" textLength="6.2" lengthAdjust="spacingAndGlyphs">-1</text><text class="ann" x="326.1" y="147.7">:</text><text class="ann" x="334.0" y="147.7" textLength="15.6" lengthAdjust="spacingAndGlyphs">C-C</text><text class="ann" x="350.9" y="147.7" textLength="40.2" lengthAdjust="spacingAndGlyphs">vibration</text><text class="ann" x="393.2" y="147.7" textLength="25.2" lengthAdjust="spacingAndGlyphs">mode</text><text class="ann" x="420.8" y="147.7" textLength="43.9" lengthAdjust="spacingAndGlyphs">(aromatic</text><text class="ann" x="465.3" y="147.7" textLength="28.1" lengthAdjust="spacingAndGlyphs">amino</text><text class="ann" x="495.0" y="147.7" textLength="25.4" lengthAdjust="spacingAndGlyphs">acids)</text>
</svg>
</body></html>
